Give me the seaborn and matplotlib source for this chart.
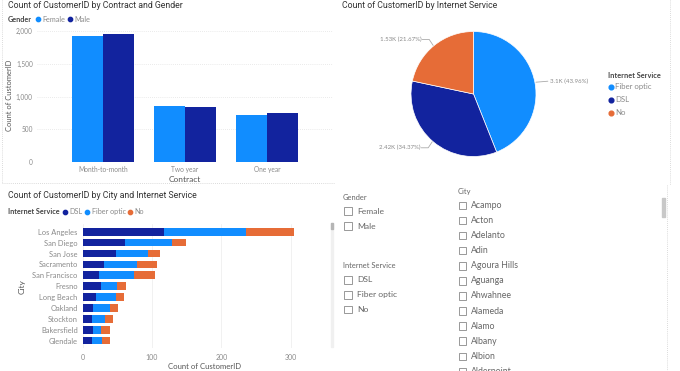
import numpy as np
import pandas as pd
import matplotlib
matplotlib.use("Agg")
import matplotlib.pyplot as plt
import seaborn as sns
from matplotlib.patches import Rectangle
from matplotlib.lines import Line2D

# ---------------- data ----------------
contracts = ["Month-to-month", "Two year", "One year"]
genders = ["Female", "Male"]
female_counts = [1925, 848, 718]
male_counts = [1950, 847, 755]

internet_services = ["Fiber optic", "DSL", "No"]
internet_counts = [3096, 2421, 1526]

cities = ["Los Angeles", "San Diego", "San Jose", "Sacramento", "San Francisco",
          "Fresno", "Long Beach", "Oakland", "Stockton", "Bakersfield", "Glendale"]
city_dsl = [118, 61, 48, 31, 24, 27, 20, 15, 14, 15, 13]
city_fiber = [118, 68, 46, 48, 50, 23, 28, 25, 19, 12, 15]
city_no = [69, 20, 18, 29, 30, 13, 12, 11, 11, 13, 11]

gender_slicer = ["Female", "Male"]
internet_slicer = ["DSL", "Fiber optic", "No"]
city_slicer = ["Acampo", "Acton", "Adelanto", "Adin", "Agoura Hills", "Aguanga",
               "Ahwahnee", "Alameda", "Alamo", "Albany", "Albion", "Alderpoint"]

# ---------------- style ----------------
sns.set_theme(style="white")
plt.rcParams["font.family"] = ["Lato", "DejaVu Sans"]
TITLE_FONT = ["Roboto", "DejaVu Sans"]

C_LIGHT = "#118DFF"
C_DARK = "#12239E"
C_ORANGE = "#E66C37"
TITLE_C = "#333333"
LBL_C = "#555555"
TICK_C = "#8a8a8a"

W, H = 680, 371
fig = plt.figure(figsize=(W / 100, H / 100), dpi=100)
fig.patch.set_facecolor("white")


def fx(x):
    return x / W


def fy(y):
    return 1 - y / H


def rect(x0, y0, x1, y1):
    return [fx(x0), fy(y1), fx(x1) - fx(x0), fy(y0) - fy(y1)]


def text(x, y, s, size=6.0, color=LBL_C, weight="normal", ha="left", va="center", **kw):
    return fig.text(fx(x), fy(y), s, fontsize=size, color=color, fontweight=weight,
                    ha=ha, va=va, **kw)


def title(x, y, s):
    text(x, y, s, size=6.3, color=TITLE_C, family=TITLE_FONT)


def legend_row(x, y, ttl, labels, colors, size=5.2):
    t = text(x, y, ttl, size=size, color="#444444", weight="bold")
    fig.canvas.draw()
    r = fig.canvas.get_renderer()
    bb = t.get_window_extent(renderer=r)
    cx = bb.x1 + 3.5
    for lab, col in zip(labels, colors):
        fig.add_artist(Line2D([fx(cx + 2.2)], [fy(y)], marker="o", markersize=3.1,
                              color=col, transform=fig.transFigure, linestyle="none"))
        tt = text(cx + 6.5, y, lab, size=size, color=TICK_C)
        bb2 = tt.get_window_extent(renderer=r)
        cx = bb2.x1 + 2.5


def style_axes(ax):
    for s in ax.spines.values():
        s.set_visible(False)
    ax.tick_params(length=0, colors=TICK_C, labelsize=5.0, pad=2)


# visual borders (dotted, faint)
for (x0, y0, x1, y1) in [(2, 0, 2, 183), (2, 183, 334, 183), (670, 0, 670, 185), (667, 185, 667, 371)]:
    fig.add_artist(Line2D([fx(x0), fx(x1)], [fy(y0), fy(y1)], color="#cfcfcf",
                          linewidth=0.6, linestyle=(0, (1, 1.5)), transform=fig.transFigure))

# ---------------- chart 1: grouped bars ----------------
ax1 = fig.add_axes(rect(37, 28, 333, 162))
df1 = pd.DataFrame({
    "Contract": contracts * 2,
    "Gender": ["Female"] * 3 + ["Male"] * 3,
    "Count": female_counts + male_counts,
})
sns.barplot(data=df1, x="Contract", y="Count", hue="Gender", order=contracts,
            hue_order=genders, palette=[C_LIGHT, C_DARK], width=0.76,
            saturation=1, ax=ax1, legend=False, linewidth=0, edgecolor="none")
ax1.set_xlim(-0.8, 2.8)
ax1.set_ylim(0, 2000 * 134 / 131)
ax1.set_yticks([0, 500, 1000, 1500, 2000])
ax1.set_yticklabels(["0", "500", "1,000", "1,500", "2,000"])
ax1.yaxis.grid(True, color="#e3e3e3", linestyle=(0, (1, 1.5)), linewidth=0.6)
ax1.set_axisbelow(True)
style_axes(ax1)
ax1.tick_params(axis="y", pad=3.0, labelsize=4.7)
ax1.tick_params(axis="x", pad=3, labelsize=4.8)
ax1.set_xlabel("Contract", fontsize=6.0, color=LBL_C, labelpad=2)
ax1.set_ylabel("Count of CustomerID", fontsize=5.4, color=LBL_C, labelpad=2)
title(8, 5, "Count of CustomerID by Contract and Gender")
legend_row(8, 19, "Gender", genders, [C_LIGHT, C_DARK])

# ---------------- chart 2: pie ----------------
cx, cy, rad = 473.5, 94, 62.5
ax2 = fig.add_axes(rect(cx - rad, cy - rad, cx + rad, cy + rad))
pie_colors = [C_LIGHT, C_DARK, C_ORANGE]
ax2.pie(internet_counts, colors=pie_colors, startangle=90, counterclock=False,
        radius=1, wedgeprops=dict(linewidth=0.5, edgecolor="white"))
ax2.set_aspect("equal")
ax2.set_xlim(-1, 1)
ax2.set_ylim(-1, 1)
ax2.axis("off")
title(342, 5, "Count of CustomerID by Internet Service")

total = sum(internet_counts)
cum = 0
for v in internet_counts:
    frac = v / total
    mid = cum + frac / 2
    cum += frac
    ang = np.deg2rad(90 - 360 * mid)
    ex, ey = cx + rad * np.cos(ang), cy - rad * np.sin(ang)
    k = f"{v / 1000:.2f}".rstrip("0").rstrip(".")
    lab = f"{k}K ({frac * 100:.2f}%)"
    if np.cos(ang) >= 0:
        lx, ly = ex + 15, ey - 1
        xs, ys = [ex + 1, ex + 13], [ey, ly]
        text(lx, ly, lab, size=4.4, color=TICK_C, ha="left")
    else:
        ly = ey - 6 if np.sin(ang) > 0 else ey + 6
        lx = ex - 13
        xs, ys = [ex - 1, ex - 5, lx + 1], [ey, ly, ly]
        text(lx, ly, lab, size=4.4, color=TICK_C, ha="right")
    fig.add_artist(Line2D([fx(a) for a in xs], [fy(b) for b in ys], color="#aaaaaa",
                          linewidth=0.6, transform=fig.transFigure))

text(608, 75, "Internet Service", size=5.3, color="#444444", weight="bold")
for i, (lab, col) in enumerate(zip(internet_services, pie_colors)):
    yy = 86.5 + 13 * i
    fig.add_artist(Line2D([fx(611)], [fy(yy)], marker="o", markersize=3.4, color=col,
                          transform=fig.transFigure, linestyle="none"))
    text(615, yy, lab, size=5.6, color=TICK_C)

# ---------------- chart 3: stacked horizontal bars ----------------
ax3 = fig.add_axes(rect(82.5, 224.1, 326, 348.3))
df3 = pd.DataFrame({"City": cities, "DSL": city_dsl, "Fiber": city_fiber, "No": city_no})
df3["s1"] = df3["DSL"]
df3["s2"] = df3["DSL"] + df3["Fiber"]
df3["s3"] = df3["s2"] + df3["No"]
for col, c in [("s3", C_ORANGE), ("s2", C_LIGHT), ("s1", C_DARK)]:
    sns.barplot(data=df3, y="City", x=col, order=cities, color=c, saturation=1,
                width=0.7, ax=ax3, orient="h", linewidth=0, edgecolor="none")
ax3.set_xlim(0, (326 - 82.5) / (208.2 / 300))
ax3.set_ylim(10.7, -0.7)
ax3.set_xticks([0, 100, 200, 300])
ax3.xaxis.grid(True, color="#efefef", linewidth=0.6)
ax3.set_axisbelow(True)
style_axes(ax3)
ax3.tick_params(axis="y", pad=3.5, labelsize=5.4)
ax3.tick_params(axis="x", pad=4)
ax3.set_xlabel("Count of CustomerID", fontsize=5.6, color=LBL_C, labelpad=1.5)
ax3.set_ylabel("City", fontsize=6.0, color=LBL_C, labelpad=5)
title(8, 196, "Count of CustomerID by City and Internet Service")
legend_row(8, 211.5, "Internet Service", ["DSL", "Fiber optic", "No"], [C_DARK, C_LIGHT, C_ORANGE])

# scrollbar of chart 3
fig.add_artist(Rectangle((fx(331), fy(347)), fx(2), fy(223) - fy(347), color="#f0f0f0",
                         transform=fig.transFigure))
fig.add_artist(Rectangle((fx(331), fy(229)), fx(2), fy(223) - fy(229), color="#b5b5b5",
                         transform=fig.transFigure))

# ---------------- slicers ----------------
def checkbox(x, y, label, size=6.0):
    fig.add_artist(Rectangle((fx(x), fy(y + 3.8)), fx(7.5), fy(y - 3.8) - fy(y + 3.8),
                             fill=False, edgecolor="#888888", linewidth=0.6,
                             transform=fig.transFigure))
    text(x + 12.5, y, label, size=size, color="#666666")


text(343, 198, "Gender", size=5.4, color="#666666")
for i, lab in enumerate(gender_slicer):
    checkbox(344.3, 211 + 15.2 * i, lab, size=6.1)
text(343, 266, "Internet Service", size=5.4, color="#666666")
for i, lab in enumerate(internet_slicer):
    checkbox(344.3, 280 + 14.8 * i, lab, size=6.1)
text(458, 191.5, "City", size=5.4, color="#666666")
for i, lab in enumerate(city_slicer):
    checkbox(458.7, 205.3 + 15.1 * i, lab, size=6.3)

fig.add_artist(Rectangle((fx(662), fy(217)), fx(2.5), fy(198) - fy(217), color="#c8c8c8",
                         transform=fig.transFigure))

fig.savefig("out.png", dpi=100, facecolor="white")
